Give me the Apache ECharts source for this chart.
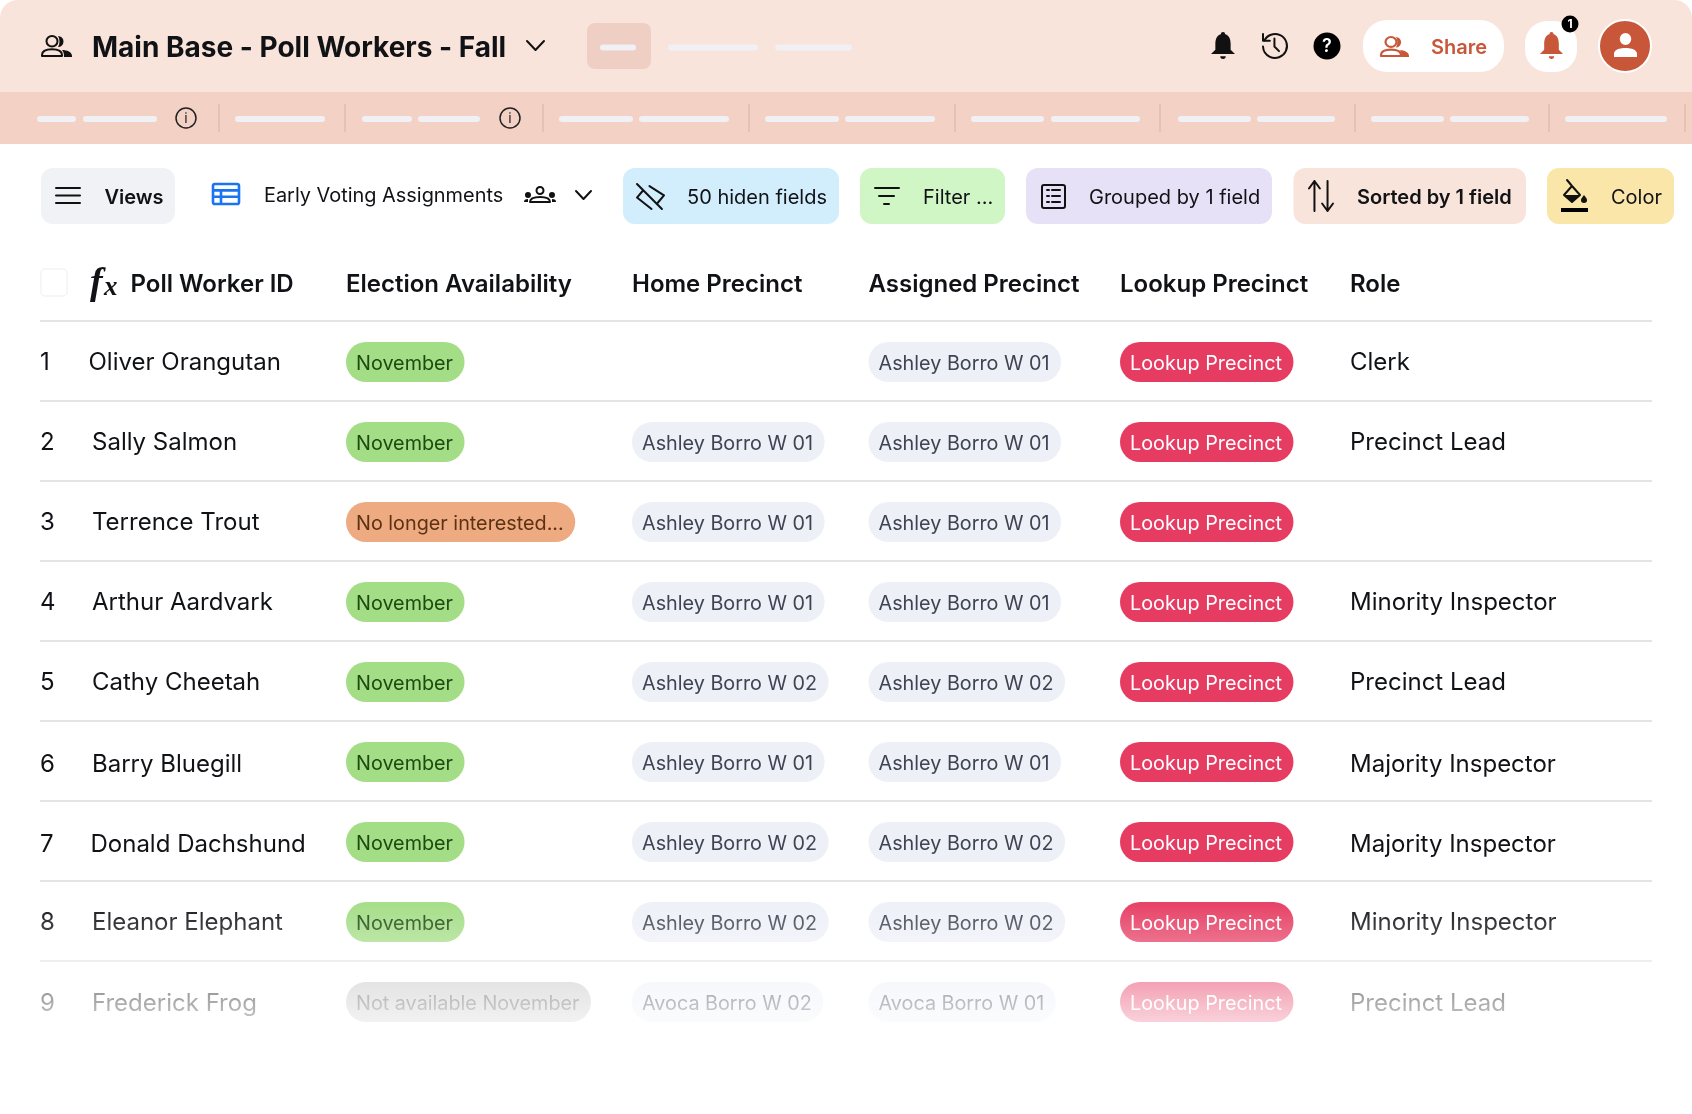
<!DOCTYPE html>
<html>
<head>
<meta charset="utf-8">
<style>
  html, body { margin: 0; padding: 0; background: #fff; }
  #chart { width: 1692px; height: 1114px; }
</style>
<script src="https://cdn.jsdelivr.net/npm/echarts@6/dist/echarts.min.js"></script>
</head>
<body>
<div id="chart"></div>
<script>
// table content
var rowNumbers = ['1', '2', '3', '4', '5', '6', '7', '8', '9'];
var workers = ['Oliver Orangutan', 'Sally Salmon', 'Terrence Trout', 'Arthur Aardvark', 'Cathy Cheetah',
  'Barry Bluegill', 'Donald Dachshund', 'Eleanor Elephant', 'Frederick Frog'];
var availability = ['November', 'November', 'No longer interested...', 'November', 'November',
  'November', 'November', 'November', 'Not available November'];
var homePrecinct = ['', 'Ashley Borro W 01', 'Ashley Borro W 01', 'Ashley Borro W 01', 'Ashley Borro W 02',
  'Ashley Borro W 01', 'Ashley Borro W 02', 'Ashley Borro W 02', 'Avoca Borro W 02'];
var assignedPrecinct = ['Ashley Borro W 01', 'Ashley Borro W 01', 'Ashley Borro W 01', 'Ashley Borro W 01', 'Ashley Borro W 02',
  'Ashley Borro W 01', 'Ashley Borro W 02', 'Ashley Borro W 02', 'Avoca Borro W 01'];
var lookupPrecinct = ['Lookup Precinct', 'Lookup Precinct', 'Lookup Precinct', 'Lookup Precinct', 'Lookup Precinct',
  'Lookup Precinct', 'Lookup Precinct', 'Lookup Precinct', 'Lookup Precinct'];
var roles = ['Clerk', 'Precinct Lead', '', 'Minority Inspector', 'Precinct Lead',
  'Majority Inspector', 'Majority Inspector', 'Minority Inspector', 'Precinct Lead'];
var columnTitles = ['Poll Worker ID', 'Election Availability', 'Home Precinct', 'Assigned Precinct', 'Lookup Precinct', 'Role'];

// layout, in page pixels (the x axis runs 1:1 with the page)
var FONT = 'Inter';
var colX = { num: 40, name: 92, avail: 346, home: 632, assigned: 868.5, lookup: 1120, role: 1350 };
var nameShift = [-3.5, 0, 0, 0, 0, 0, -1.5, 0, 0];
var rowTextDy = [2, 2, 2, 2, 2, 4, 4, 2, 3];
var headX = [130.5, 346, 632, 868.5, 1120, 1350];

var availStyle = {
  'November': ['#a3dd85', '#1d4a12'],
  'No longer interested...': ['#eeaa80', '#5c3214'],
  'Not available November': ['#c6c6c6', '#555555']
};

var measure = document.createElement('canvas').getContext('2d');

function textColumn(name, x, values, fontSize, shifts) {
  return {
    type: 'custom', name: name, coordinateSystem: 'cartesian2d', z: 5, silent: true,
    data: values.map(function (v, i) { return [x + (shifts ? shifts[i] : 0), i, v]; }),
    renderItem: function (params, api) {
      var p = api.coord([api.value(0), api.value(1)]);
      return {
        type: 'text', x: p[0], y: p[1] + rowTextDy[params.dataIndex],
        style: { text: values[params.dataIndex], fontFamily: FONT, fontSize: fontSize, fill: '#111216', align: 'left', verticalAlign: 'middle' }
      };
    }
  };
}

function pillColumn(name, x, values, styleOf) {
  return {
    type: 'custom', name: name, coordinateSystem: 'cartesian2d', z: 5, silent: true,
    data: values.map(function (v, i) { return [x, i, v]; }),
    renderItem: function (params, api) {
      var v = values[params.dataIndex];
      if (!v) return null;
      var p = api.coord([api.value(0), api.value(1)]);
      var s = styleOf(v);
      measure.font = '19.8px ' + FONT;
      var w = measure.measureText(v).width + 21.5;
      return {
        type: 'group',
        children: [
          { type: 'rect', shape: { x: p[0], y: p[1] - 19, width: w, height: 40, r: 20 }, style: { fill: s[0] } },
          {
            type: 'text', x: p[0] + 10, y: p[1] + 3,
            style: { text: v, fontFamily: FONT, fontSize: 19.8, fill: s[1], align: 'left', verticalAlign: 'middle' }
          }
        ]
      };
    }
  };
}

// chrome helpers
function box(x, y, w, h, r, fill, extra) {
  var el = { type: 'rect', shape: { x: x, y: y, width: w, height: h, r: r }, style: { fill: fill } };
  return Object.assign(el, extra || {});
}
function bar(x1, x2, y) { return box(x1, y - 3, x2 - x1, 6, 3, '#f0f0f5'); }
function label(text, x, y, size, weight, fill, family, extra) {
  return {
    type: 'text', x: x, y: y,
    style: Object.assign({ text: text, fontFamily: family || FONT, fontSize: size, fontWeight: weight || 400, fill: fill || '#111216', align: 'left', verticalAlign: 'middle' }, extra || {})
  };
}
function icon(d, x, y, w, h, style) {
  return {
    type: 'path', shape: { pathData: d, layout: 'cover', x: x, y: y, width: w, height: h },
    style: Object.assign({ fill: 'none', lineCap: 'round', lineJoin: 'round' }, style)
  };
}
function strokeIcon(d, x, y, w, h, color, lw) { return icon(d, x, y, w, h, { stroke: color || '#111', lineWidth: lw || 2 }); }
function fillIcon(d, x, y, w, h, color) { return icon(d, x, y, w, h, { fill: color || '#111' }); }

var PEOPLE_LINE = 'M10 0a5.5 5.5 0 1 0 .01 0zM0 21v-1c0-4 4-6 10-6s10 2 10 6v1z';
var PEOPLE_FILL = 'M16 0a5.5 5.5 0 0 1 0 11c2-3 2-8 0-11zM20 14c5 0 10 2 10 6v1h-8v-1c0-3-1-5-2-6z';
var BELL = 'M12 0a2 2 0 0 1 2 2c4 1 5 5 5 9v5l4 4H1l4-4v-5c0-4 1-8 5-9a2 2 0 0 1 2-2zM9.5 22h5a2.5 2.5 0 0 1-5 0z';
var HISTORY = 'M2 2v6h6M3 8a10.5 10.5 0 1 1-1 5M12 6v7l4 4';
var PERSON = 'M12 0a6 6 0 1 1-.01 0zM0 24v-3c0-4 5-6 12-6s12 2 12 6v3z';
var TEAM_LINE = 'M10 0a3.5 3.5 0 1 0 .01 0zM0 15c0-4 4-5 10-5s10 1 10 5z';
var TEAM_LEFT = 'M4 0a3 3 0 1 1-.01 0zM0 10c0-2 1-3 4-3v3z';
var TEAM_RIGHT = 'M3 0a3 3 0 1 1-.01 0zM7 10c0-2-1-3-4-3v3z';
var HIDDEN = 'M1 0L25 24M13 2L27 11L21 18M7 6L1 13L15 24';
var SORT = 'M6 22V2M1 7L6 2L11 7M18 2V22M13 17L18 22L23 17';
var BUCKET_LINE = 'M5 0L10 6L18 15L10 22L2 15L10 6';
var BUCKET_FILL = 'M2 15H18L10 22Z';
var DROP = 'M3 0C5 3 6 4 6 6a3 3 0 0 1-6 0C0 4 1 3 3 0z';
var TABLE = 'M3 1h22a2 2 0 0 1 2 2v18a2 2 0 0 1-2 2H3a2 2 0 0 1-2-2V3a2 2 0 0 1 2-2zM1 8h26M1 15h26M9 8v15';

var ORANGE = '#c8573a';

var chrome = [
  // top bands
  box(0, 0, 1692, 130, [18, 18, 0, 0], '#f8e4da'),
  box(0, 92, 1692, 52, 0, '#f3d2c5'),
  strokeIcon(PEOPLE_LINE, 42, 36, 20, 20, '#111', 2),
  fillIcon(PEOPLE_FILL, 58, 36, 14, 21, '#111'),
  label('Main Base - Poll Workers - Fall', 92, 49, 28, 700),
  strokeIcon('M1 1L9 9L17 1', 527, 41, 17, 9, '#111', 2),
  box(587, 23, 64, 46, 8, '#efcfc3'),
  bar(600, 636, 47.5), bar(668, 758, 47.5), bar(775, 852, 47.5),
  fillIcon(BELL, 1211, 32, 24, 27),
  strokeIcon(HISTORY, 1263, 34, 24, 24, '#111', 2),
  { type: 'circle', shape: { cx: 1327, cy: 46, r: 13.5 }, style: { fill: '#000' } },
  label('?', 1327, 47, 18, 600, '#fff', FONT, { align: 'center' }),
  box(1363, 20, 141, 52, 24, '#fff'),
  strokeIcon(PEOPLE_LINE, 1381, 37, 20, 19, ORANGE, 2.2),
  fillIcon(PEOPLE_FILL, 1396, 37, 13, 20, ORANGE),
  label('Share', 1431, 48, 20, 600, ORANGE),
  box(1525, 21, 52, 51, 22, '#fff'),
  fillIcon(BELL, 1540, 32, 23, 27, ORANGE),
  { type: 'circle', shape: { cx: 1570, cy: 24, r: 8.5 }, style: { fill: '#000' } },
  label('1', 1570, 24.5, 12, 700, '#fff', FONT, { align: 'center' }),
  { type: 'circle', shape: { cx: 1625, cy: 46, r: 26 }, style: { fill: ORANGE, stroke: '#fff', lineWidth: 2 } },
  fillIcon(PERSON, 1614, 33, 23, 24, '#fff'),
  // second band: placeholder bars, info marks and dividers
  bar(37, 76, 119), bar(83, 157, 119),
  { type: 'circle', shape: { cx: 186, cy: 118, r: 10 }, style: { fill: 'none', stroke: '#222', lineWidth: 1.5 } },
  label('i', 186, 118.5, 14, 400, '#222', FONT, { align: 'center' }),
  bar(235, 325, 119), bar(362, 412, 119), bar(418, 480, 119),
  { type: 'circle', shape: { cx: 510, cy: 118, r: 10 }, style: { fill: 'none', stroke: '#222', lineWidth: 1.5 } },
  label('i', 510, 118.5, 14, 400, '#222', FONT, { align: 'center' }),
  bar(559, 633, 119), bar(639, 729, 119), bar(765, 839, 119), bar(845, 935, 119),
  bar(971, 1044, 119), bar(1051, 1140, 119), bar(1178, 1251, 119), bar(1257, 1335, 119),
  bar(1371, 1444, 119), bar(1450, 1529, 119), bar(1565, 1667, 119)
];
[219, 345, 543, 749, 955, 1160, 1355, 1549, 1685].forEach(function (x) {
  chrome.push({ type: 'line', shape: { x1: x, y1: 104, x2: x, y2: 132 }, style: { stroke: '#e3bdae', lineWidth: 1.5 } });
});

chrome = chrome.concat([
  // toolbar
  box(41, 168, 134, 56, 12, '#f0f2f6'),
  strokeIcon('M0 1H24M0 8.5H24M0 16H24', 56, 188, 24, 15, '#111', 2),
  label('Views', 104.5, 197.5, 20, 600),
  strokeIcon(TABLE, 213, 184, 26, 20, '#1a73f0', 2.6),
  label('Early Voting Assignments', 264, 196.5, 19.9),
  strokeIcon(TEAM_LINE, 530, 187, 20, 15, '#111', 2),
  fillIcon(TEAM_LEFT, 524, 192, 7, 10),
  fillIcon(TEAM_RIGHT, 549, 192, 7, 10),
  strokeIcon('M1 1L8 8L15 1', 576, 191, 15, 8, '#111', 2),
  box(623, 168, 216, 56, 12, '#d2edfc'),
  strokeIcon(HIDDEN, 637, 184, 27, 25, '#111', 2),
  label('50 hiden fields', 687, 197.5, 20),
  box(860, 168, 145, 56, 12, '#cff6c4'),
  strokeIcon('M0 1H24M4 9H19M9 17H14', 875, 188, 24, 16, '#111', 2),
  label('Filter ...', 923, 197.5, 20),
  box(1026, 168, 246, 56, 12, '#e6e1f6'),
  box(1042, 185, 23, 23, 2, 'none', { style: { fill: 'none', stroke: '#111', lineWidth: 2 } }),
  strokeIcon('M0 0H2M5 0H13M0 6H2M5 6H13M0 12H2M5 12H13', 1047, 190, 13, 12, '#111', 2),
  label('Grouped by 1 field', 1089, 197.5, 20),
  box(1293.5, 168, 232.5, 56, 12, '#f8e4da'),
  strokeIcon(SORT, 1309, 181, 24, 30, '#111', 2),
  label('Sorted by 1 field', 1357, 197.5, 20, 600),
  box(1547, 168, 127, 56, 12, '#fae6a8'),
  strokeIcon(BUCKET_LINE, 1564, 180, 16, 22, '#111', 2),
  fillIcon(BUCKET_FILL, 1564, 195, 16, 7),
  fillIcon(DROP, 1581, 195, 6, 8),
  box(1561, 208, 27, 4, 0, '#000'),
  label('Color', 1611, 197.5, 20),
  // column header row
  box(41, 269, 26, 27, 4, '#fff', { style: { fill: '#fff', stroke: '#f3f3f5', lineWidth: 1.5 } }),
  label('f', 90, 284, 38, 700, '#111216', 'Liberation Serif', { fontStyle: 'italic' }),
  label('x', 104, 288, 27, 700, '#111216', 'Liberation Serif', { fontStyle: 'italic' })
]);
columnTitles.forEach(function (t, i) { chrome.push(label(t, headX[i], 285, 24, 600)); });

// graphic has no path element, the icons go through a custom series
var icons = chrome.filter(function (el) { return el.type === 'path'; });
chrome = chrome.filter(function (el) { return el.type !== 'path'; });

// bottom fade laid over the last rows
chrome.push({
  type: 'rect', z: 100, shape: { x: 0, y: 870, width: 1692, height: 190 },
  style: {
    fill: {
      type: 'linear', x: 0, y: 0, x2: 0, y2: 1,
      colorStops: [
        { offset: 0, color: 'rgba(255,255,255,0)' },
        { offset: 0.18, color: 'rgba(255,255,255,0.04)' },
        { offset: 1, color: 'rgba(255,255,255,1)' }
      ]
    }
  }
});
chrome.forEach(function (el) { if (el.z == null) el.z = 1; });

var chart = echarts.init(document.getElementById('chart'));
chart.setOption({
  animation: false,
  backgroundColor: '#ffffff',
  grid: { left: 40, top: 321, width: 1612, height: 720, containLabel: false },
  xAxis: { type: 'value', min: 40, max: 1652, show: false },
  yAxis: {
    type: 'category', inverse: true, data: rowNumbers,
    axisLine: { show: false }, axisTick: { show: false }, axisLabel: { show: false },
    splitLine: {
      show: true, showMinLine: true, showMaxLine: false,
      lineStyle: { color: '#e4e4e7', width: 2 }
    }
  },
  graphic: { elements: chrome },
  series: [
    {
      type: 'custom', name: 'icons', coordinateSystem: 'none', z: 5, silent: true,
      data: icons.map(function (el, i) { return i; }),
      renderItem: function (params) { return icons[params.dataIndex]; }
    },
    textColumn('number', colX.num, rowNumbers, 24),
    textColumn('worker', colX.name, workers, 24, nameShift),
    pillColumn('availability', colX.avail, availability, function (v) { return availStyle[v]; }),
    pillColumn('home', colX.home, homePrecinct, function () { return ['#eef0f8', '#3d4452']; }),
    pillColumn('assigned', colX.assigned, assignedPrecinct, function () { return ['#eef0f8', '#3d4452']; }),
    pillColumn('lookup', colX.lookup, lookupPrecinct, function () { return ['#e63c62', '#ffffff']; }),
    textColumn('role', colX.role, roles, 24)
  ]
});
</script>
</body>
</html>
